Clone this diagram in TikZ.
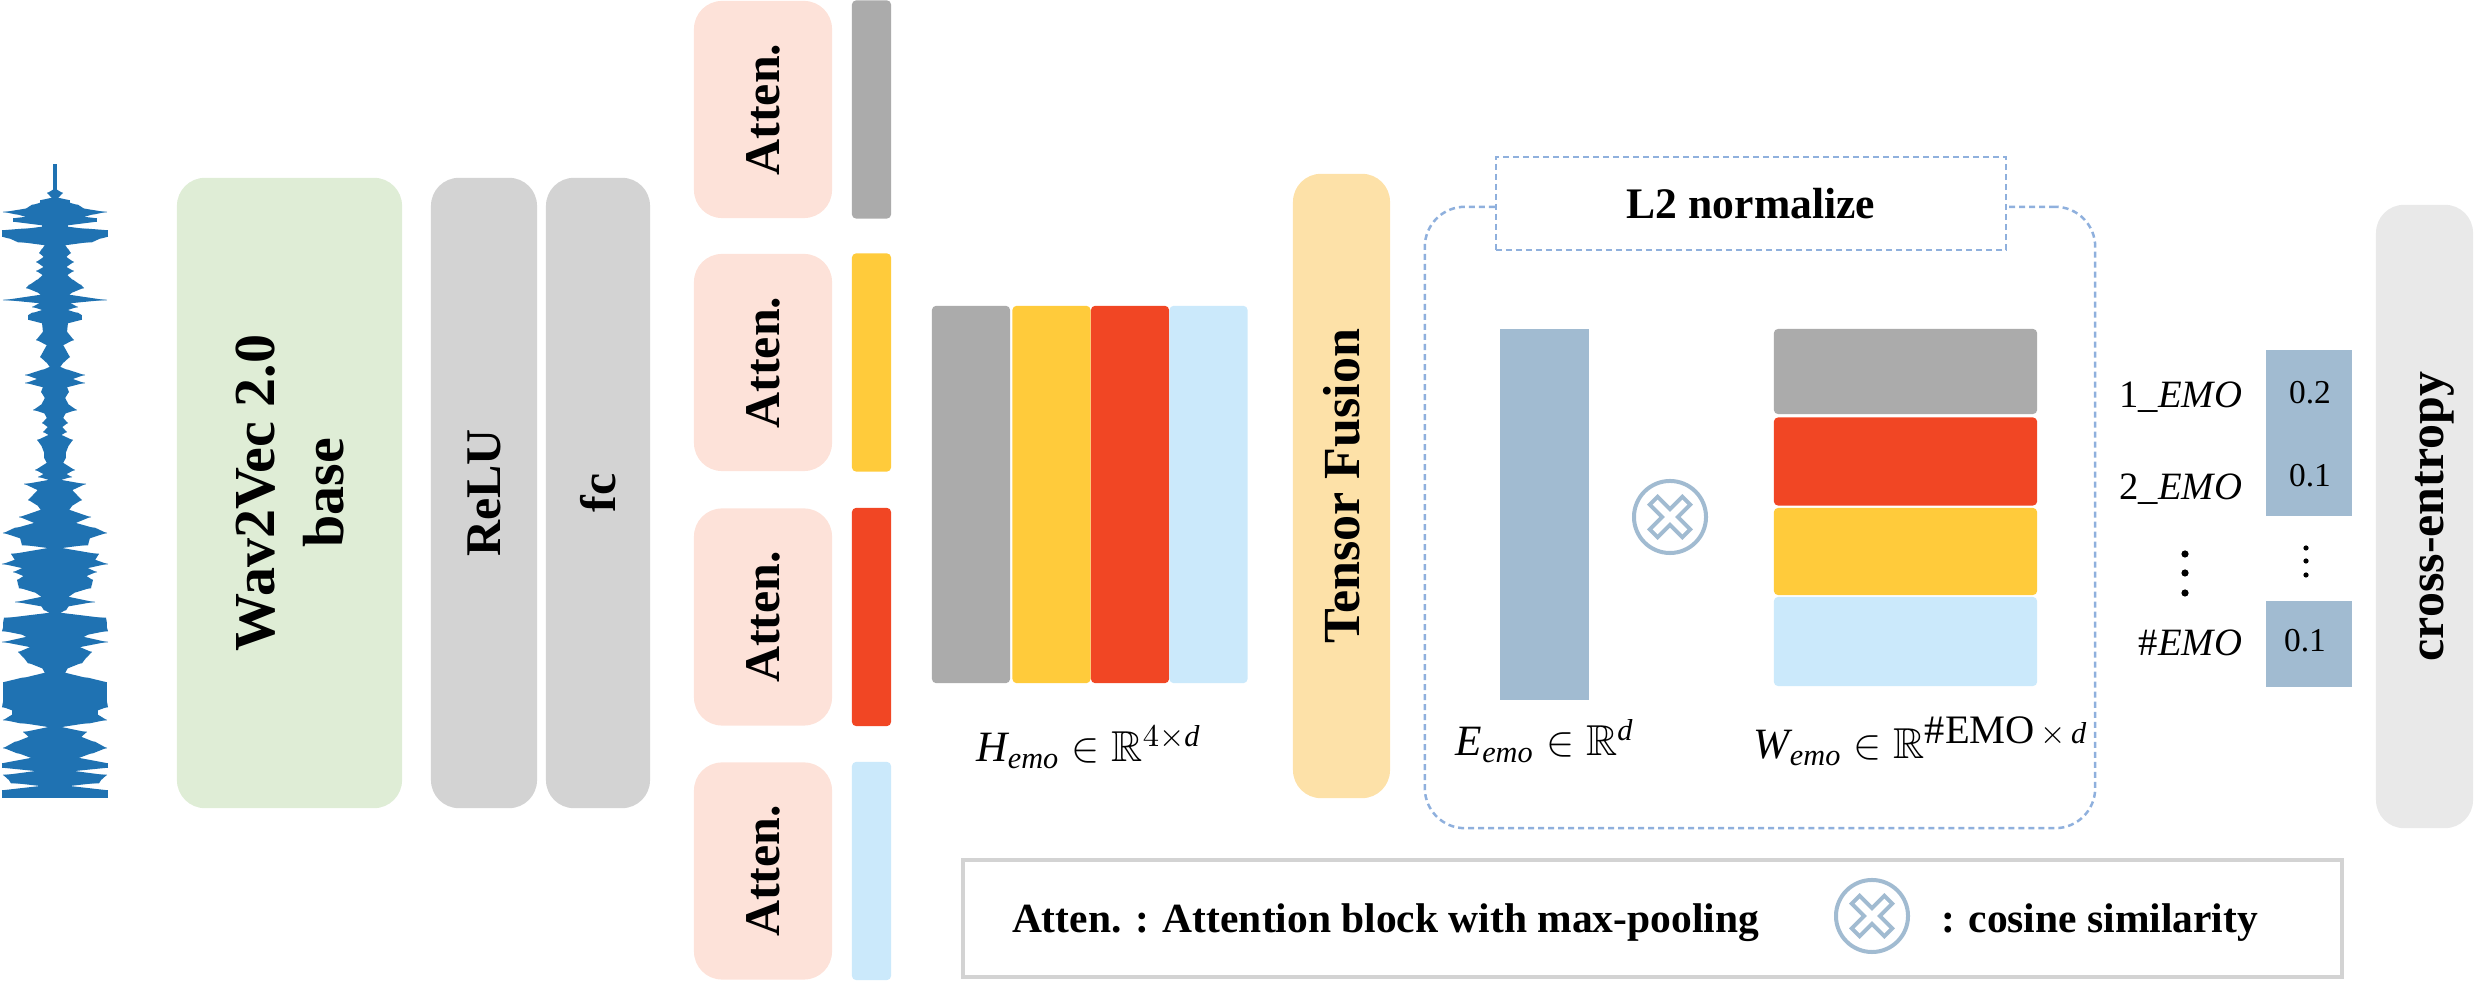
\documentclass[tikz,border=0pt]{standalone}
\usepackage{amsmath,amssymb}
\usepackage{fontspec}
\setmainfont{Liberation Serif}
\usetikzlibrary{calc}
\definecolor{grayc}{HTML}{ABABAB}
\definecolor{yellowc}{HTML}{FFCB3B}
\definecolor{redc}{HTML}{F14624}
\definecolor{bluec}{HTML}{CBE9FB}
\definecolor{peachc}{HTML}{FDE2D9}
\definecolor{greenc}{HTML}{DFEDD6}
\definecolor{midc}{HTML}{D3D3D3}
\definecolor{tensorc}{HTML}{FDE1A8}
\definecolor{crossc}{HTML}{E9E9E9}
\definecolor{steelc}{HTML}{A1BBD1}
\definecolor{dashc}{HTML}{8FB0DD}
\definecolor{wavec}{HTML}{1F72B2}
\newcommand{\fs}[1]{\fontsize{#1}{#1}\selectfont}
\newcommand{\var}[1]{\textit{#1}}
% outlined cross inside a similarity circle
\newcommand{\crossmark}[1]{
  \foreach \a in {45,135} \draw[steelc,line width=.15cm] ($(#1)+(\a:25)$) -- ($(#1)+(\a+180:25)$);
  \foreach \a in {45,135} \draw[white,line width=.07cm] ($(#1)+(\a:21)$) -- ($(#1)+(\a+180:21)$);
}
\tikzset{
  vblock/.style={rectangle,rounded corners=.28cm,rotate=90,align=center,font=\bfseries\fs{14.2}},
  bar/.style={rectangle,rounded corners=.04cm,minimum width=.39cm,minimum height=2.18cm},
  hbar/.style={rectangle,rounded corners=.04cm,minimum width=.78cm,minimum height=3.77cm},
  wbar/.style={rectangle,rounded corners=.04cm,minimum width=2.63cm},
  simil/.style={circle,draw=steelc,line width=.04cm,minimum size=.72cm},
  dashbox/.style={draw=dashc,line width=.025cm,dash pattern=on .06cm off .04cm},
  vals/.style={font=\fs{9.5}},
  emo/.style={font=\fs{11},anchor=east}
}
\begin{document}
\begin{tikzpicture}
  [x=.01cm,y=-.01cm,every node/.style={inner sep=0pt,outer sep=0pt}]
  \useasboundingbox (0,0) rectangle (2475,983);

  % waveform: height / half width
  \foreach \y/\w [remember=\y as \py (initially 164),remember=\w as \pw (initially 2)] in {190/2,193/8,198/3,200/15,203/15,205/23,209/30,212/52,214/40,
    217/28,218/42,222/42,225/13,227/13,229/33,230/53,237/53,238/47,242/37,245/10,249/13,253/16,257/11,262/19,267/11,
    271/19,275/12,280/18,285/26,288/29,292/18,295/14,300/52,303/15,307/23,310/12,313/23,315/27,320/27,323/13,332/12,
    340/19,345/8,357/15,362/9,367/5,370/13,375/30,379/17,383/30,387/12,392/14,398/10,405/14,410/22,413/11,418/8,
    423/13,427/7,432/12,435/6,440/18,445/14,452/11,458/11,463/8,470/20,474/11,477/17,480/5,484/31,490/17,500/27,
    505/18,510/14,517/36,523/20,528/40,533/52,538/35,545/33,548/5,554/44,560/40,564/53,568/32,572/42,576/31,580/38,
    584/37,588/36,592/21,597/13,602/40,606/14,610/11,613/5,618/51,623/52,628/52,631/53,634/35,637/28,642/53,647/24,
    652/37,657/32,663/27,668/13,673/10,678/33,682/52,702/52,707/53,710/43,715/43,720/52,723/35,727/5,732/32,737/26,
    742/40,748/52,753/38,758/23,763/53,768/53,771/17,775/52,779/47,783/44,786/12,790/53,798/53}
    \fill[wavec] (55-\pw,\py-.3) -- (55+\pw,\py-.3) -- (55+\w,\y+.3) -- (55-\w,\y+.3) -- cycle;

  % encoder blocks
  \node[vblock,fill=greenc,minimum width=6.3cm,minimum height=2.25cm,font=\bfseries\fs{16.5}] (wav) at (289.5,493) {Wav2Vec 2.0\\[.11cm]base};
  \node[vblock,fill=midc,minimum width=6.3cm,minimum height=1.06cm] (relu) at (484,493) {ReLU};
  \node[vblock,fill=midc,minimum width=6.3cm,minimum height=1.04cm] (fc) at (598,493) {fc};

  % attention heads and their outputs
  \foreach \i/\y/\col in {1/109.5/grayc,2/362.5/yellowc,3/617/redc,4/871/bluec} {
    \node[vblock,fill=peachc,minimum width=2.17cm,minimum height=1.38cm] (att\i) at (763,\y) {Atten.};
    \node[bar,fill=\col] (bar\i) at (871.5,\y) {};
  }

  % stacked heads
  \foreach \i/\x/\col in {1/971/grayc,2/1051.5/yellowc,3/1130/redc,4/1208.5/bluec}
    \node[hbar,fill=\col] (h\i) at (\x,494.5) {};
  \node[font=\fs{12.3}] (hlabel) at (1089,747) {$\var{H}_{\var{emo}} \in \mathbb{R}^{4\times \var{d}}$};

  \node[vblock,fill=tensorc,minimum width=6.24cm,minimum height=.97cm,font=\bfseries\fs{14.8}] (fusion) at (1341.5,486) {Tensor Fusion};

  % normalised embedding and weights
  \node[dashbox,rectangle,rounded corners=.4cm,minimum width=6.7cm,minimum height=6.21cm] (norm) at (1760,517.5) {};
  \node[dashbox,fill=white,rectangle,minimum width=5.1cm,minimum height=.93cm,font=\bfseries\fs{12.4}] (l2) at (1751,203.5) {L2 normalize};
  \node[rectangle,fill=steelc,minimum width=.89cm,minimum height=3.71cm] (eemo) at (1544.5,514.5) {};
  \node[font=\fs{12.3}] (elabel) at (1545,741) {$\var{E}_{\var{emo}} \in \mathbb{R}^{\var{d}}$};
  \node[simil] (sim1) at (1670,517) {};
  \crossmark{sim1}
  \node[wbar,fill=grayc,minimum height=.85cm] (w1) at (1905.5,371.5) {};
  \node[wbar,fill=redc,minimum height=.88cm] (w2) at (1905.5,461.5) {};
  \node[wbar,fill=yellowc,minimum height=.87cm] (w3) at (1905.5,551.5) {};
  \node[wbar,fill=bluec,minimum height=.89cm] (w4) at (1905.5,641.5) {};
  \node[font=\fs{12.3}] (wlabel) at (1921,741) {$\var{W}_{\var{emo}} \in \mathbb{R}^{\text{\fs{11.5}\#EMO}\,\times\,\var{d}}$};

  % class scores
  \node[rectangle,fill=steelc,minimum width=.86cm,minimum height=1.66cm] (s1) at (2309,433) {};
  \node[rectangle,fill=steelc,minimum width=.86cm,minimum height=.86cm] (s2) at (2309,644) {};
  \node[vals] (v1) at (2310,393) {0.2};
  \node[vals] (v2) at (2310,476) {0.1};
  \node[vals] (v3) at (2305,641) {0.1};
  \node[emo] (e1) at (2242,397) {1\_\var{EMO}};
  \node[emo] (e2) at (2242,489) {2\_\var{EMO}};
  \node[emo] (e3) at (2242,643) {\#\var{EMO}};
  \foreach \y in {554,573,593} \fill (2185,\y) circle (3.6);
  \foreach \y in {548,561,575} \fill (2306,\y) circle (2.6);

  \node[vblock,fill=crossc,minimum width=6.23cm,minimum height=.97cm,text height=.47cm,text depth=.1cm] (xent) at (2424.5,516.5) {cross-entropy};

  % legend
  \node[rectangle,draw=midc,line width=.04cm,minimum width=13.79cm,minimum height=1.17cm] (legend) at (1652.5,918.5) {};
  \node[font=\bfseries\fs{11.8},anchor=west] (ltext) at (1012,923) {Atten. : Attention block with max-pooling};
  \node[simil] (sim2) at (1872,916) {};
  \crossmark{sim2}
  \node[font=\bfseries\fs{11.8},anchor=west] (ctext) at (1941,923) {: cosine similarity};
\end{tikzpicture}
\end{document}
